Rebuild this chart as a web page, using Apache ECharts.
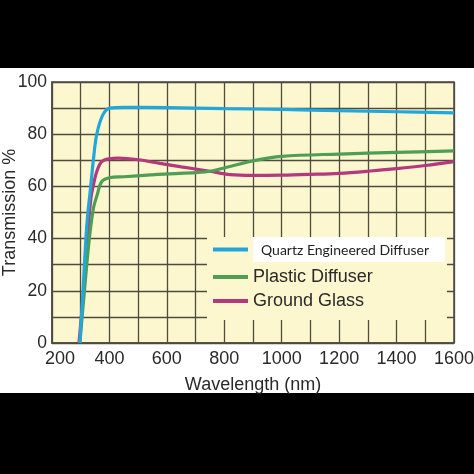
<!DOCTYPE html>
<html>
<head>
<meta charset="utf-8">
<script src="https://cdn.jsdelivr.net/npm/echarts@6/dist/echarts.min.js"></script>
<style>
html, body { margin: 0; padding: 0; background: #fff; }
#chart { width: 474px; height: 474px; }
</style>
</head>
<body>
<div id="chart"></div>
<script>
// series names
const seriesNames = ['Quartz Engineered Diffuser', 'Plastic Diffuser', 'Ground Glass']

// Quartz Engineered Diffuser
const quartzWl = [297, 308, 318, 325, 332, 344, 356, 377, 402, 450, 600, 800, 1000, 1200, 1400, 1600]
const quartzT = [0, 20, 40, 50, 57, 70, 80, 87.4, 90, 90.3, 90.2, 89.8, 89.5, 89.0, 88.6, 88.2]

// Plastic Diffuser
const plasticWl = [297, 313, 330, 345, 358, 373, 400, 450, 543, 600, 700, 750, 820, 900, 1000, 1200, 1400, 1600]
const plasticT = [0, 20, 40, 52, 57, 61.8, 63.3, 63.7, 64.4, 64.8, 65.3, 65.8, 67.6, 69.8, 71.5, 72.4, 73, 73.6]

// Ground Glass
const glassWl = [294, 310, 323, 335, 345, 356, 373, 400, 430, 500, 576, 650, 750, 820, 900, 1000, 1100, 1200, 1300, 1400, 1500, 1600]
const glassT = [0, 20, 40, 55, 61, 65.7, 69.5, 70.6, 70.8, 70.2, 68.8, 67.5, 65.8, 64.5, 64.2, 64.3, 64.6, 65, 65.8, 66.8, 68, 69.5]

const colors = ['#22a7dc', '#4e9e55', '#b3387c']

const pairs = (xs, ys) => xs.map((x, i) => [x, ys[i]])

const chart = echarts.init(document.getElementById('chart'))

const gridStyle = { color: '#4e4c40', width: 1.3 }
const font = 'Liberation Sans'
const ink = '#2a2a2a'

const option = {
  backgroundColor: '#fff',
  animation: false,
  graphic: [
    { type: 'rect', left: 0, top: 0, shape: { width: 474, height: 68 }, style: { fill: '#000' } },
    { type: 'rect', left: 0, top: 393, shape: { width: 474, height: 81 }, style: { fill: '#000' } }
  ],
  grid: {
    left: 52, top: 82, right: 20, bottom: 131,
    outerBoundsMode: 'none', containLabel: false,
    show: true, backgroundColor: '#fcf7cf', borderColor: '#4e4c40', borderWidth: 1.5
  },
  legend: {
    orient: 'vertical',
    left: 207, top: 237,
    padding: [0, 2, 10, 6],
    backgroundColor: '#fcf7cf',
    itemWidth: 35, itemHeight: 4, itemGap: 6,
    icon: 'rect',
    data: seriesNames,
    formatter: name => name === seriesNames[0] ? '{q|' + name + '}' : '{p|' + name + '}',
    textStyle: {
      rich: {
        q: { fontFamily: 'Lato', fontSize: 14, color: '#222', backgroundColor: '#fff', padding: [6, 16, 5, 8] },
        p: { fontFamily: font, fontSize: 18, color: ink, padding: [2, 0, 2, 0] }
      }
    }
  },
  xAxis: {
    type: 'value', min: 200, max: 1600, interval: 200,
    name: 'Wavelength (nm)', nameLocation: 'middle', nameGap: 33, nameMoveOverlap: false,
    nameTextStyle: { fontFamily: font, fontSize: 18, color: ink },
    axisLine: { show: true, lineStyle: { color: '#4e4c40', width: 1.5 } },
    axisTick: { show: false },
    axisLabel: {
      margin: 7, fontFamily: font, fontSize: 18, color: ink,
      formatter: v => v === 200 ? '{a|200}' : String(v),
      rich: { a: { fontFamily: font, fontSize: 18, color: ink, padding: [0, 0, 0, 16] } }
    },
    splitLine: { show: true, lineStyle: gridStyle },
    minorTick: { show: false, splitNumber: 2 },
    minorSplitLine: { show: true, lineStyle: gridStyle }
  },
  yAxis: {
    type: 'value', min: 0, max: 100, interval: 20,
    name: 'Transmission %', nameLocation: 'middle', nameGap: 33, nameMoveOverlap: false,
    nameTextStyle: { fontFamily: font, fontSize: 18, color: ink },
    axisLine: { show: true, lineStyle: { color: '#4e4c40', width: 1.5 } },
    axisTick: { show: false },
    axisLabel: { margin: 5, fontFamily: font, fontSize: 17.5, color: ink, padding: [0, 0, 7, 0] },
    splitLine: { show: true, lineStyle: gridStyle },
    minorTick: { show: false, splitNumber: 2 },
    minorSplitLine: { show: true, lineStyle: gridStyle }
  },
  series: [
    { name: seriesNames[0], type: 'line', data: pairs(quartzWl, quartzT) },
    { name: seriesNames[1], type: 'line', data: pairs(plasticWl, plasticT) },
    { name: seriesNames[2], type: 'line', data: pairs(glassWl, glassT) }
  ].map((s, i) => Object.assign(s, {
    showSymbol: false, smooth: 0.35,
    itemStyle: { color: colors[i] },
    lineStyle: { color: colors[i], width: 3.2 },
    z: 3 - i
  }))
}

chart.setOption(option)
</script>
</body>
</html>
